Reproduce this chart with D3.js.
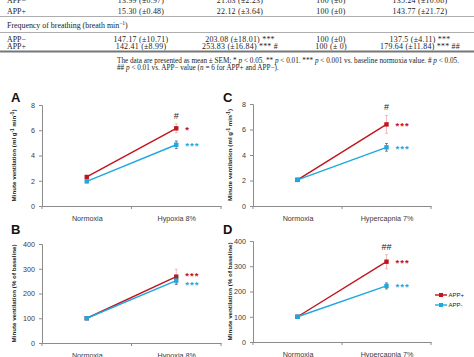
<!DOCTYPE html>
<html><head><meta charset="utf-8">
<script src="https://cdn.jsdelivr.net/npm/d3@7"></script>
<style>body{margin:0;background:#fff}svg{display:block}</style>
</head><body>
<svg id="c" width="474" height="357"></svg>
<script>
// ---------- table data ----------
const tableTopRowLabels = ["APP\u2212", "APP+"];
const tableTopRowCells = [
  ["13.99 (\u00b10.97)", "21.83 (\u00b12.23)", "100 (\u00b10)", "135.24 (\u00b110.08)"],
  ["15.30 (\u00b10.48)", "22.12 (\u00b13.64)", "100 (\u00b10)", "143.77 (\u00b121.72)"]
];
const tableSectionTitle = "Frequency of breathing (breath min";
const tableFreqRowLabels = ["APP\u2212", "APP+"];
const tableFreqRowCells = [
  ["147.17 (\u00b110.71)", "203.08 (\u00b118.01) ***", "100 (\u00b10)", "137.5 (\u00b14.11) ***"],
  ["142.41 (\u00b18.99)", "253.83 (\u00b116.84) *** #", "100 (\u00b1 0)", "179.64 (\u00b111.84) *** ##"]
];
const footnoteLines = [
  ["The data are presented as mean \u00b1 SEM; * ", ["p"], " < 0.05. ** ", ["p"], " < 0.01. *** ", ["p"], " < 0.001 vs. baseline normoxia value. # ", ["p"], " < 0.05."],
  ["## ", ["p"], " < 0.01 vs. APP\u2212 value (", ["n"], " = 6 for APP+ and APP\u2212)."]
];

// ---------- chart data ----------
const panelLetters = ["A", "B", "C", "D"];
const panelCategories = [
  ["Normoxia", "Hypoxia 8%"], ["Normoxia", "Hypoxia 8%"],
  ["Normoxia", "Hypercapnia 7%"], ["Normoxia", "Hypercapnia 7%"]
];
const panelYMax = [8, 400, 8, 400];
const yTicksAbsolute = [0, 2, 4, 6, 8];
const yTicksPercent = [0, 100, 200, 300, 400];
const seriesNames = ["APP+", "APP-"];
const appPlusValues = [[2.3, 6.15], [100, 268], [2.05, 6.4], [100, 318]];
const appPlusErrors = [[0.1, 0.35], [0, 30], [0.1, 0.7], [0, 28]];
const appMinusValues = [[1.95, 4.85], [100, 252], [2.05, 4.6], [100, 222]];
const appMinusErrors = [[0.1, 0.3], [0, 15], [0.1, 0.3], [0, 12]];
const appPlusSig = ["*", "***", "***", "***"];
const appMinusSig = ["***", "***", "***", "***"];
const hashSig = ["#", "", "#", "##"];

// ---------- layout ----------
const RED = "#c0141e", BLUE = "#1fa8df", AXIS = "#8c8c8c", TXT = "#3a3a3a";
const SERIF = "'Liberation Serif', 'DejaVu Serif', serif";
const SANS = "'Liberation Sans', Arial, sans-serif";
const svg = d3.select("#c");

// table
const colCenters = [141, 240, 331, 420];
const tfs = 7.9;
function row(y, label, cells) {
  svg.append("text").attr("x", 7).attr("y", y).attr("font-family", SERIF).attr("font-size", tfs).attr("fill", "#222").text(label);
  cells.forEach((c, i) => svg.append("text").attr("x", colCenters[i]).attr("y", y).attr("text-anchor", "middle")
    .attr("font-family", SERIF).attr("font-size", tfs).attr("letter-spacing", 0.25).attr("fill", "#222").text(c));
}
const topYs = [3, 14];
tableTopRowLabels.forEach((l, i) => row(topYs[i], l, tableTopRowCells[i]));
svg.append("line").attr("x1", 0).attr("x2", 474).attr("y1", 16.5).attr("y2", 16.5).attr("stroke", "#999").attr("stroke-width", 0.8);
const st = svg.append("text").attr("x", 7).attr("y", 28).attr("font-family", SERIF).attr("font-size", tfs).attr("fill", "#222");
st.append("tspan").text(tableSectionTitle);
st.append("tspan").attr("dy", -3).attr("font-size", 5.5).text("\u22121");
st.append("tspan").attr("dy", 3).text(")");
svg.append("line").attr("x1", 0).attr("x2", 474).attr("y1", 32.5).attr("y2", 32.5).attr("stroke", "#999").attr("stroke-width", 0.8);
const freqYs = [42, 49];
tableFreqRowLabels.forEach((l, i) => row(freqYs[i], l, tableFreqRowCells[i]));
svg.append("line").attr("x1", 0).attr("x2", 474).attr("y1", 51.5).attr("y2", 51.5).attr("stroke", "#777").attr("stroke-width", 1.8);
const fnYs = [63, 70];
footnoteLines.forEach((parts, i) => {
  const t = svg.append("text").attr("x", 117).attr("y", fnYs[i]).attr("font-family", SERIF).attr("font-size", 7.2).attr("fill", "#222");
  parts.forEach(p => {
    if (Array.isArray(p)) t.append("tspan").attr("font-style", "italic").text(p[0]);
    else t.append("tspan").text(p);
  });
});

// panels
const panelLayout = [
  {x0: 42, x1: 221, yTop: 105, yBot: 206, lx: 11, ly: 102, tx: 16},
  {x0: 42, x1: 221, yTop: 244, yBot: 343, lx: 11, ly: 234, tx: 16},
  {x0: 253, x1: 431, yTop: 104, yBot: 206, lx: 223, ly: 102, tx: 232},
  {x0: 253, x1: 431, yTop: 241, yBot: 342, lx: 223, ly: 234, tx: 232}
];

panelLetters.forEach((letter, p) => {
  const L = panelLayout[p];
  const g = svg.append("g");
  const x = d3.scalePoint().domain(panelCategories[p]).range([L.x0, L.x1]).padding(0.5);
  const y = d3.scaleLinear().domain([0, panelYMax[p]]).range([L.yBot, L.yTop]);
  const ticks = panelYMax[p] === 8 ? yTicksAbsolute : yTicksPercent;

  // y axis
  const ya = g.append("g").attr("transform", `translate(${L.x0},0)`)
    .call(d3.axisLeft(y).tickValues(ticks).tickSize(3).tickPadding(4).tickFormat(d3.format("d")));
  ya.select(".domain").attr("stroke", AXIS);
  ya.selectAll(".tick line").attr("stroke", AXIS);
  ya.selectAll(".tick text").attr("font-family", SANS).attr("font-size", 7.2).attr("fill", TXT);

  // x axis
  const xa = g.append("g").attr("transform", `translate(0,${L.yBot})`)
    .call(d3.axisBottom(x).tickSize(0).tickPadding(10));
  xa.select(".domain").attr("stroke", AXIS);
  xa.selectAll(".tick text").attr("font-family", SANS).attr("font-size", 7.2).attr("fill", TXT);
  const step = x.step();
  [L.x0, L.x0 + step, L.x1].forEach(px => g.append("line").attr("x1", px).attr("x2", px)
    .attr("y1", L.yBot).attr("y2", L.yBot + 3).attr("stroke", AXIS));

  // letter
  g.append("text").attr("x", L.lx).attr("y", L.ly).attr("font-family", SANS).attr("font-weight", "bold")
    .attr("font-size", 13).attr("fill", "#111").text(letter);

  // axis title
  const cy = (L.yTop + L.yBot) / 2;
  const tt = g.append("text").attr("transform", `translate(${L.tx},${cy}) rotate(-90)`).attr("text-anchor", "middle")
    .attr("font-family", SANS).attr("font-weight", "bold").attr("font-size", 6.2).attr("fill", "#222");
  if (panelYMax[p] === 8) {
    tt.append("tspan").text("Minute ventilation (ml g");
    tt.append("tspan").attr("dy", -2.5).attr("font-size", 4.5).text("-1");
    tt.append("tspan").attr("dy", 2.5).text(" min");
    tt.append("tspan").attr("dy", -2.5).attr("font-size", 4.5).text("-1");
    tt.append("tspan").attr("dy", 2.5).text(")");
  } else {
    tt.text("Minute ventilation (% of baseline)");
  }

  // series
  const series = [
    {vals: appPlusValues[p], errs: appPlusErrors[p], color: RED, errColor: "#e8a0a4", sig: appPlusSig[p]},
    {vals: appMinusValues[p], errs: appMinusErrors[p], color: BLUE, errColor: "#555", sig: appMinusSig[p]}
  ];
  const lastYs = series.map(s => y(s.vals[s.vals.length - 1]));
  const gap = lastYs[1] - lastYs[0];
  const starShift = gap < 9 ? (9 - gap) / 2 : 0;
  series.forEach((s, si) => {
    const pts = panelCategories[p].map((c, i) => [x(c), y(s.vals[i]), s.errs[i], s.vals[i]]);
    pts.forEach(pt => {
      if (pt[2] > 0) {
        const yt = y(pt[3] + pt[2]), yb = y(pt[3] - pt[2]);
        g.append("line").attr("x1", pt[0]).attr("x2", pt[0]).attr("y1", yt).attr("y2", yb).attr("stroke", s.errColor).attr("stroke-width", 0.7);
        [yt, yb].forEach(yy => g.append("line").attr("x1", pt[0] - 1.5).attr("x2", pt[0] + 1.5).attr("y1", yy).attr("y2", yy).attr("stroke", s.errColor).attr("stroke-width", 0.7));
      }
    });
    g.append("path").attr("d", d3.line()(pts.map(d => [d[0], d[1]]))).attr("stroke", s.color).attr("stroke-width", 1.4).attr("fill", "none");
    g.selectAll(null).data(pts).enter().append("rect").attr("x", d => d[0] - 2.2).attr("y", d => d[1] - 2.2)
      .attr("width", 4.4).attr("height", 4.4).attr("fill", s.color);
    const last = pts[pts.length - 1];
    const sy = last[1] + (si === 0 ? -starShift : starShift);
    g.append("text").attr("x", last[0] + 9).attr("y", sy + 4.5).attr("font-family", SANS).attr("font-weight", "bold")
      .attr("font-size", 9.5).attr("letter-spacing", 1).attr("fill", s.color).text(s.sig);
  });
  if (hashSig[p]) {
    const i = 1;
    const top = y(appPlusValues[p][i] + appPlusErrors[p][i]);
    g.append("text").attr("x", x(panelCategories[p][i])).attr("y", top - 5).attr("text-anchor", "middle")
      .attr("font-family", SANS).attr("font-size", 9).attr("fill", "#222").text(hashSig[p]);
  }
});

// legend
const legendYs = [295, 305];
const legendColors = [RED, BLUE];
seriesNames.forEach((n, i) => {
  const g = svg.append("g");
  g.append("line").attr("x1", 435).attr("x2", 447).attr("y1", legendYs[i]).attr("y2", legendYs[i]).attr("stroke", legendColors[i]).attr("stroke-width", 1.4);
  g.append("rect").attr("x", 439).attr("y", legendYs[i] - 2).attr("width", 4).attr("height", 4).attr("fill", legendColors[i]);
  g.append("text").attr("x", 448.5).attr("y", legendYs[i] + 2.2).attr("font-family", SANS).attr("font-size", 6).attr("fill", "#222").text(n);
});
</script>
</body></html>
